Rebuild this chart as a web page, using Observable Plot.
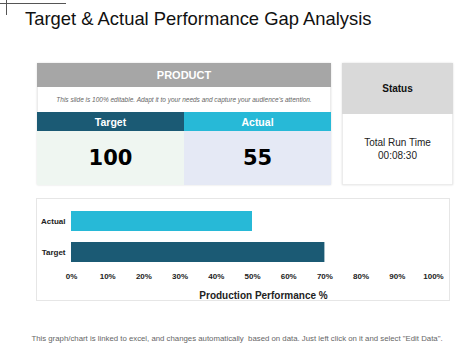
<!DOCTYPE html>
<html><head><meta charset="utf-8">
<script src="https://cdn.jsdelivr.net/npm/d3@7"></script>
<script src="https://cdn.jsdelivr.net/npm/@observablehq/plot@0.6"></script>
<style>
body{margin:0;background:#fff;font-family:"Liberation Sans",Arial,sans-serif;}
#page{position:relative;width:474px;height:355px;overflow:hidden;background:#fff;}
.abs{position:absolute;box-sizing:border-box;}
.c{display:flex;align-items:center;justify-content:center;text-align:center;}
</style></head><body>
<div id="page">
  <div class="abs" style="left:0;top:3px;width:66px;height:1px;background:#555"></div>
  <div class="abs" style="left:6px;top:0;width:1px;height:15px;background:#555"></div>
  <div class="abs" id="title" style="left:25px;top:8px;font-size:18.4px;color:#111;white-space:nowrap"></div>

  <div class="abs" style="left:37px;top:63px;width:294px;height:122px;border:1px solid #ececec;box-shadow:0 0 2px #ddd"></div>
  <div class="abs c" id="prodHead" style="left:37px;top:63px;width:294px;height:24px;background:#a6a6a6;color:#fff;font-weight:bold;font-size:11px"></div>
  <div class="abs c" id="prodNote" style="left:37px;top:87px;width:294px;height:25px;font-style:italic;font-size:6.5px;color:#666;white-space:nowrap"></div>
  <div class="abs c" id="tHead" style="left:37px;top:112px;width:147px;height:19px;background:#1b5a74;color:#fff;font-weight:bold;font-size:10.5px"></div>
  <div class="abs c" id="aHead" style="left:184px;top:112px;width:147px;height:19px;background:#27b9d7;color:#fff;font-weight:bold;font-size:10.5px"></div>
  <div class="abs c" id="tVal" style="left:37px;top:131px;width:147px;height:54px;background:#eff6f1;font-family:'DejaVu Sans',sans-serif;font-weight:bold;font-size:21px;color:#000"></div>
  <div class="abs c" id="aVal" style="left:184px;top:131px;width:147px;height:54px;background:#e5e9f5;font-family:'DejaVu Sans',sans-serif;font-weight:bold;font-size:21px;color:#000"></div>

  <div class="abs" style="left:342px;top:63px;width:111px;height:122px;border:1px solid #ececec;box-shadow:0 0 2px #ddd"></div>
  <div class="abs c" id="sHead" style="left:342px;top:63px;width:111px;height:51px;background:#d9d9d9;color:#111;font-weight:bold;font-size:10px"></div>
  <div class="abs c" id="sBody" style="left:342px;top:114px;width:111px;height:71px;color:#222;font-size:10px;line-height:13px;padding-bottom:2px"></div>

  <div class="abs" style="left:36px;top:198px;width:414px;height:103px;border:1px solid #e6e6e6"></div>
  <div class="abs" id="chart" style="left:36px;top:198px;"></div>

  <div class="abs" id="footer" style="left:0;top:334px;width:474px;text-align:center;font-size:7.8px;color:#666;white-space:pre"></div>
</div>
<script>
const titleText = "Target & Actual Performance Gap Analysis";
const productLabel = "PRODUCT";
const productNote = "This slide is 100% editable. Adapt it to your needs and capture your audience's attention.";
const tableHeaders = ["Target", "Actual"];
const tableValues = [100, 55];
const statusLabel = "Status";
const statusLines = ["Total Run Time", "00:08:30"];
const footerText = "This graph/chart is linked to excel, and changes automatically  based on data. Just left click on it and select \"Edit Data\".";

const categories = ["Actual", "Target"];
const performance = [50, 70];
const barColors = ["#27b9d7", "#1b5a74"];
const xTicks = [0,10,20,30,40,50,60,70,80,90,100];
const xLabel = "Production Performance %";

document.getElementById("title").textContent = titleText;
document.getElementById("prodHead").textContent = productLabel;
document.getElementById("prodNote").textContent = productNote;
document.getElementById("tHead").textContent = tableHeaders[0];
document.getElementById("aHead").textContent = tableHeaders[1];
document.getElementById("tVal").textContent = tableValues[0];
document.getElementById("aVal").textContent = tableValues[1];
document.getElementById("sHead").textContent = statusLabel;
document.getElementById("sBody").innerHTML = statusLines.join("<br>");
document.getElementById("footer").textContent = footerText;

const data = categories.map((c, i) => ({category: c, value: performance[i]}));

const chart = Plot.plot({
  width: 414,
  height: 103,
  marginLeft: 35,
  marginRight: 17,
  marginTop: 8,
  marginBottom: 34,
  style: {fontFamily: "'Liberation Sans', Arial, sans-serif", fontSize: "8px", fontWeight: "bold", color: "#222", background: "transparent"},
  x: {domain: [0, 100]},
  y: {domain: categories, paddingInner: 0.355, paddingOuter: 0.16},
  color: {domain: categories, range: barColors},
  marks: [
    Plot.barX(data, {x: "value", y: "category", fill: "category"}),
    Plot.axisX({ticks: xTicks, tickFormat: d => d + "%", tickSize: 0, tickPadding: 6, label: xLabel, labelAnchor: "center", labelArrow: "none", labelOffset: 31, fontSize: 8, fontWeight: "bold"}),
    Plot.axisY({tickSize: 0, tickPadding: 6, label: null, fontSize: 8, fontWeight: "bold"})
  ]
});
document.getElementById("chart").appendChild(chart);
chart.querySelectorAll("g[aria-label='x-axis label'] text").forEach(t => {
  t.setAttribute("font-size", "10");
  t.setAttribute("dx", "11");
});
</script>
</body></html>
